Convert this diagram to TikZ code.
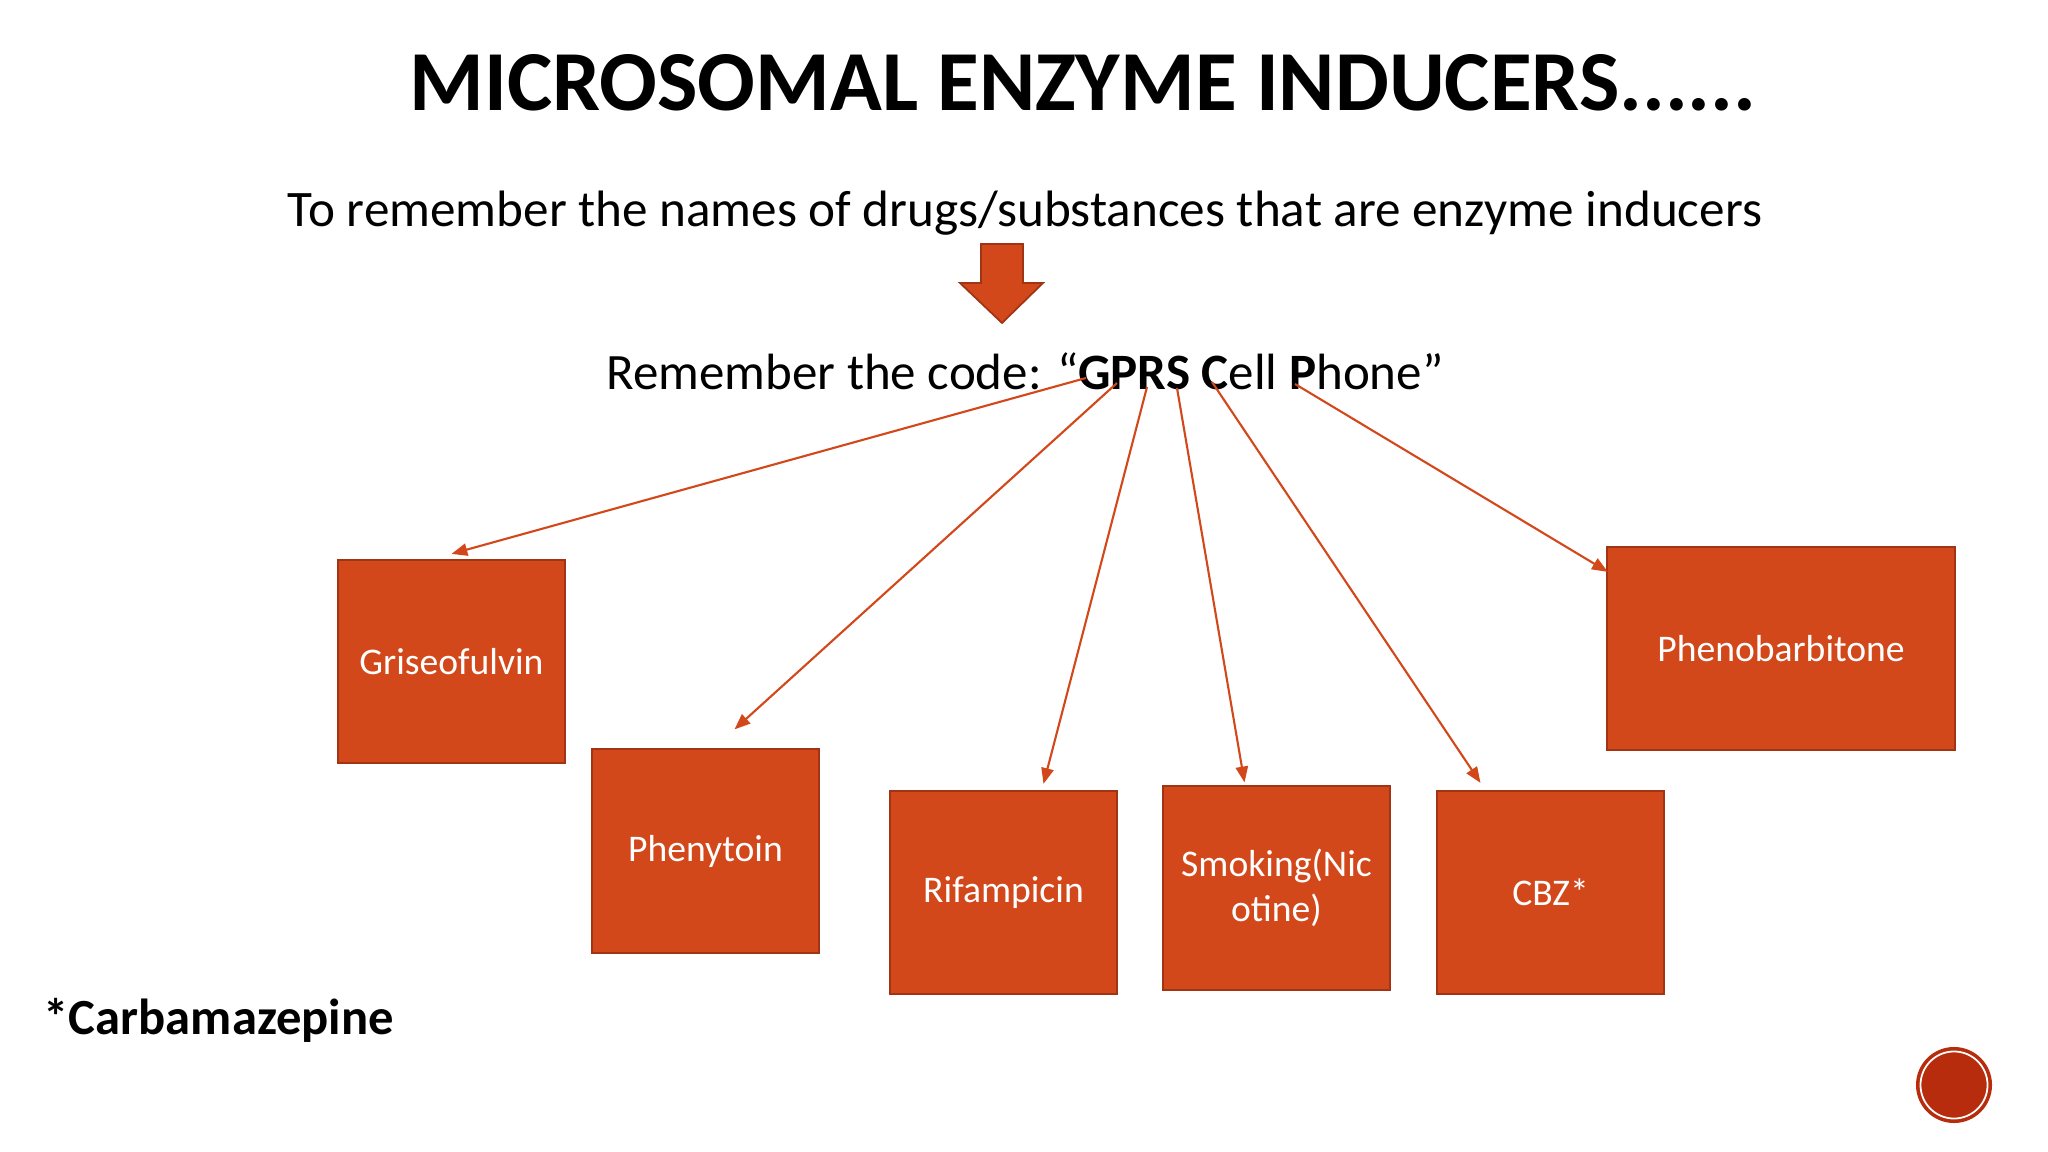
\documentclass[tikz,border=0pt]{standalone}
\usepackage{fontspec}
\setmainfont{Carlito}
\usetikzlibrary{arrows.meta,calc}

\definecolor{brick}{RGB}{211,72,26}
\definecolor{brickedge}{RGB}{160,52,20}
\definecolor{rust}{RGB}{182,44,12}

\tikzset{
  drug/.style={draw=brickedge, line width=0.6pt, fill=brick, text=white,
    minimum width=2.27cm, minimum height=2.03cm, align=center,
    font=\fontsize{10.7}{12.8}\selectfont},
  link/.style={draw=brick, line width=0.6pt, -{Triangle[length=4.5pt,width=3.5pt]}}
}

\begin{document}
\begin{tikzpicture}[x=0.01cm, y=-0.01cm]

% Page
\fill[white] (0,0) rectangle (2048,1152);
\useasboundingbox (0,0) rectangle (2048,1152);

% Headings
\node[anchor=base, font=\fontsize{24.3}{29}\selectfont\bfseries] (title) at (1083,111) {MICROSOMAL ENZYME INDUCERS......};
\node[anchor=base, font=\fontsize{14.55}{17.5}\selectfont] (hint) at (1025,227) {To remember the names of drugs/substances that are enzyme inducers};
\node[anchor=base, font=\fontsize{14.5}{17.5}\selectfont] (code) at (1025,390) {Remember the code: “\textbf{GPRS C}ell \textbf{P}hone”};

% Block arrow
\filldraw[fill=brick, draw=brickedge, line width=0.5pt]
  (981,244) -- (1023,244) -- (1023,283) -- (1043,283) -- (1002,323)
  -- (960,283) -- (981,283) -- cycle;

% Drug boxes
\node[drug] (griseo) at (451.5,661.5) {Griseofulvin};
\node[drug] (phenytoin) at (705.5,851) {Phenytoin};
\node[drug] (rifampicin) at (1003.5,892.5) {Rifampicin};
\node[drug] (smoking) at (1276.5,888) {Smoking(Nic\\otine)};
\node[drug] (cbz) at (1550.5,892.5) {CBZ*};
\node[drug, minimum width=3.48cm] (phenobarb) at (1781,648.5) {Phenobarbitone};

% Letters of the code
\coordinate (g) at (1086,378);
\coordinate (p) at (1117,383);
\coordinate (r) at (1147,387);
\coordinate (s) at (1177,388);
\coordinate (c) at (1212,382);
\coordinate (ph) at (1295,384);

% Arrows
\draw[link] (g) -- ($(griseo.north)+(0,-5)$);
\draw[link] (p) -- ($(phenytoin.north)+(29,-19)$);
\draw[link] (r) -- ($(rifampicin.north)+(40,-6)$);
\draw[link] (s) -- ($(smoking.north)+(-32,-3)$);
\draw[link] (c) -- ($(cbz.north)+(-70,-7)$);
\draw[link] (ph) -- ($(phenobarb.north west)+(2,26)$);

% Footnote
\node[anchor=base west, inner sep=0pt, font=\fontsize{14.4}{17.5}\selectfont\bfseries] (note) at (43,1034) {*Carbamazepine};

% Slide badge
\fill[rust] (1954,1085) circle[radius=0.38cm];
\draw[white, line width=0.5pt] (1954,1085) circle[radius=0.335cm];

\end{tikzpicture}
\end{document}
